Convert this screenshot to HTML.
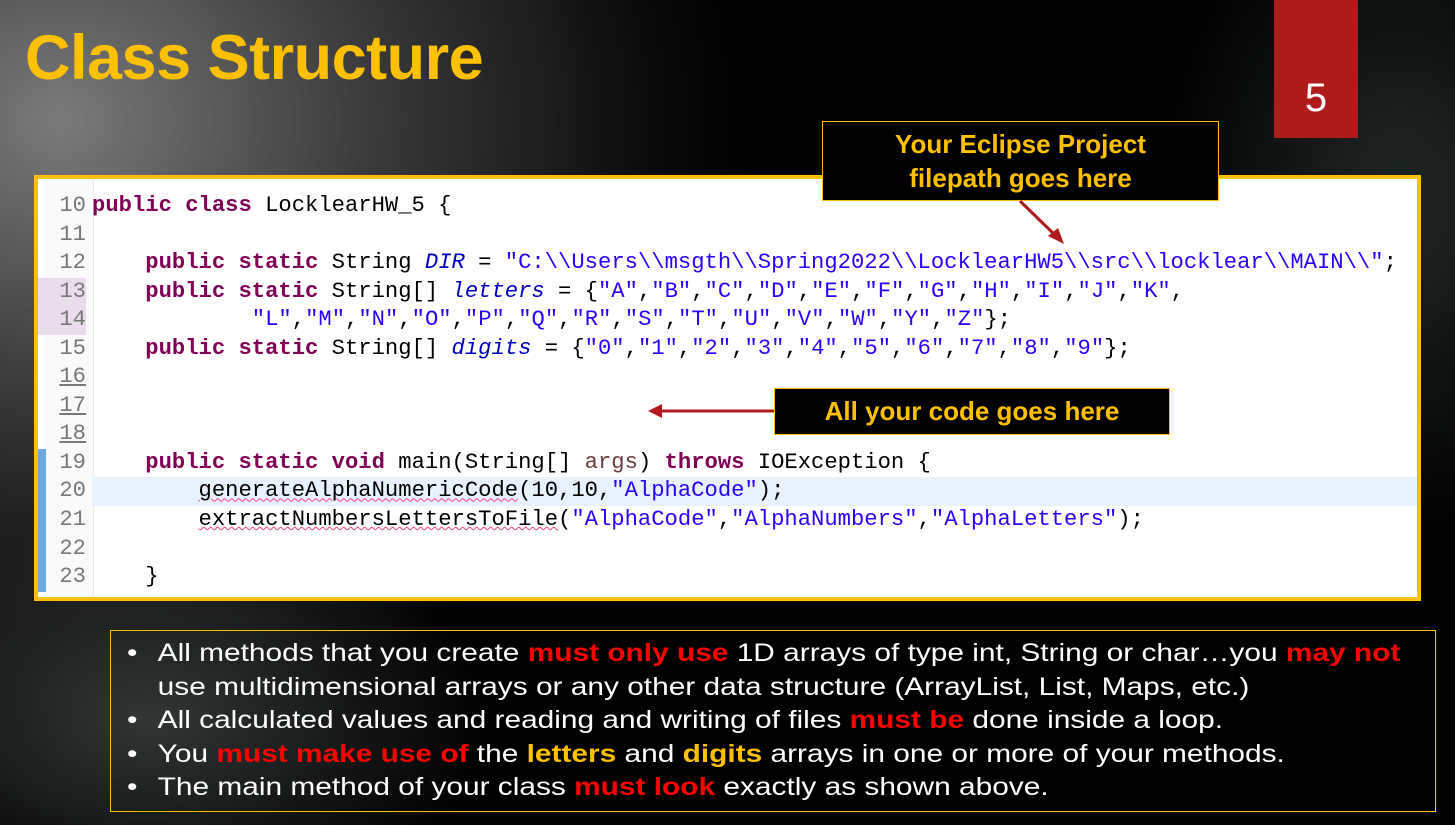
<!DOCTYPE html>
<html><head><meta charset="utf-8"><style>
*{margin:0;padding:0;box-sizing:border-box}
html,body{width:1455px;height:825px;overflow:hidden}
body{position:relative;font-family:"Liberation Sans",sans-serif;
background:radial-gradient(ellipse 700px 600px at 60px 120px,#7a7a7a 0%,#3a3a3a 45%,#0a0a0a 85%,#000 100%);background-color:#000}
.bg{position:absolute;left:0;top:0;width:1455px;height:825px;overflow:hidden}
.glow{position:absolute;left:1150px;top:0;width:305px;height:550px;background:radial-gradient(ellipse 250px 350px at 250px 200px,rgba(90,110,110,.35),rgba(0,0,0,0) 100%)}
.glow2{position:absolute;left:0;top:520px;width:500px;height:305px;background:radial-gradient(ellipse 350px 200px at 150px 200px,rgba(110,120,120,.45),rgba(0,0,0,0) 100%)}
h1{position:absolute;left:25px;top:22px;font-size:63px;font-weight:bold;color:#FFC000;letter-spacing:-0.5px}
.num{position:absolute;left:1274px;top:0;width:84px;height:138px;background:#B01A1A;color:#fff;font-size:40px;text-align:center;padding-top:78px;line-height:40px}
.ed{position:absolute;left:34px;top:175px;width:1387px;height:426px;border:4px solid #FFC000;background:#fff;overflow:hidden}
.gut{position:absolute;left:6px;top:0;width:50px;height:100%;background:#fafafa;border-right:1px solid #e8e8e8}
.code{position:absolute;left:0;top:13px;font-family:"Liberation Mono",monospace;font-size:22.2px;line-height:28.55px;white-space:pre;color:#000}
.ln{display:inline-block;width:48px;text-align:right;color:#787878;margin-right:6px}
.k{color:#7F0055;font-weight:bold}.s{color:#2A00FF}.f{color:#0000C0;font-style:italic}
.hl{background:#E8F2FE;display:inline-block;width:1340px}
.sq{text-decoration:underline wavy #ff3c8c;text-decoration-thickness:1px}
.call{position:absolute;background:#000;border:1px solid #FFC000;color:#FFC000;font-weight:bold;font-size:26px;text-align:center}
.bx{position:absolute;left:110px;top:630px;width:1326px;height:182px;border:1px solid #FFC000;overflow:hidden}
.bx ul{list-style:none;position:absolute;left:16px;top:6px;color:#fff;font-size:25.3px;line-height:33.6px;transform:scaleX(1.18);transform-origin:0 0}
.bx li{padding-left:26px;position:relative;white-space:nowrap}
.bx li:before{content:"•";position:absolute;left:0}
.bx li.nb:before{content:""}
.r{color:#FF0000;font-weight:bold}.y{color:#FFC000;font-weight:bold}
</style></head><body>
<div class="bg"><div class="glow"></div><div class="glow2"></div></div>
<h1>Class Structure</h1>
<div class="num">5</div>
<div class="ed"><div class="gut"></div>
<div class="code"><span class="ln">10</span><span class="k">public class</span> LocklearHW_5 {
<span class="ln">11</span>
<span class="ln">12</span>    <span class="k">public static</span> String <span class="f">DIR</span> = <span class="s">"C:\\Users\\msgth\\Spring2022\\LocklearHW5\\src\\locklear\\MAIN\\"</span>;
<span class="ln" style="background:#eadcec">13</span>    <span class="k">public static</span> String[] <span class="f">letters</span> = {<span class="s">"A"</span>,<span class="s">"B"</span>,<span class="s">"C"</span>,<span class="s">"D"</span>,<span class="s">"E"</span>,<span class="s">"F"</span>,<span class="s">"G"</span>,<span class="s">"H"</span>,<span class="s">"I"</span>,<span class="s">"J"</span>,<span class="s">"K"</span>,
<span class="ln" style="background:#eadcec">14</span>            <span class="s">"L"</span>,<span class="s">"M"</span>,<span class="s">"N"</span>,<span class="s">"O"</span>,<span class="s">"P"</span>,<span class="s">"Q"</span>,<span class="s">"R"</span>,<span class="s">"S"</span>,<span class="s">"T"</span>,<span class="s">"U"</span>,<span class="s">"V"</span>,<span class="s">"W"</span>,<span class="s">"Y"</span>,<span class="s">"Z"</span>};
<span class="ln">15</span>    <span class="k">public static</span> String[] <span class="f">digits</span> = {<span class="s">"0"</span>,<span class="s">"1"</span>,<span class="s">"2"</span>,<span class="s">"3"</span>,<span class="s">"4"</span>,<span class="s">"5"</span>,<span class="s">"6"</span>,<span class="s">"7"</span>,<span class="s">"8"</span>,<span class="s">"9"</span>};
<span class="ln" style="text-decoration:underline">16</span>
<span class="ln" style="text-decoration:underline">17</span>
<span class="ln" style="text-decoration:underline">18</span>
<span class="ln" style="border-left:8px solid #6fa8dc">19</span>    <span class="k">public static void</span> main(String[] <span style="color:#6A3E3E">args</span>) <span class="k">throws</span> IOException {
<span class="ln" style="border-left:8px solid #6fa8dc">20</span><span class="hl">        <span class="sq">generateAlphaNumericCode</span>(10,10,<span class="s">"AlphaCode"</span>);</span>
<span class="ln" style="border-left:8px solid #6fa8dc">21</span>        <span class="sq">extractNumbersLettersToFile</span>(<span class="s">"AlphaCode"</span>,<span class="s">"AlphaNumbers"</span>,<span class="s">"AlphaLetters"</span>);
<span class="ln" style="border-left:8px solid #6fa8dc">22</span>
<span class="ln" style="border-left:8px solid #6fa8dc">23</span>    }</div>
</div>
<div class="call" style="left:822px;top:121px;width:397px;height:80px;line-height:34px;padding-top:5px">Your Eclipse Project<br>filepath goes here</div>
<div class="call" style="left:774px;top:388px;width:396px;height:47px;line-height:45px">All your code goes here</div>
<svg style="position:absolute;left:0;top:0" width="1455" height="825">
<line x1="1020" y1="201" x2="1056" y2="236" stroke="#B01A1A" stroke-width="3"/>
<polygon points="1064,244 1048,236 1058,228" fill="#B01A1A"/>
<line x1="774" y1="411" x2="660" y2="411" stroke="#B01A1A" stroke-width="3"/>
<polygon points="648,411 662,404 662,418" fill="#B01A1A"/>
</svg>
<div class="bx"><ul>
<li>All methods that you create <span class="r">must only use</span> 1D arrays of type int, String or char…you <span class="r">may not</span></li>
<li class="nb">use multidimensional arrays or any other data structure (ArrayList, List, Maps, etc.)</li>
<li>All calculated values and reading and writing of files <span class="r">must be</span> done inside a loop.</li>
<li>You <span class="r">must make use of</span> the <span class="y">letters</span> and <span class="y">digits</span> arrays in one or more of your methods.</li>
<li>The main method of your class <span class="r">must look</span> exactly as shown above.</li>
</ul></div>
</body></html>
